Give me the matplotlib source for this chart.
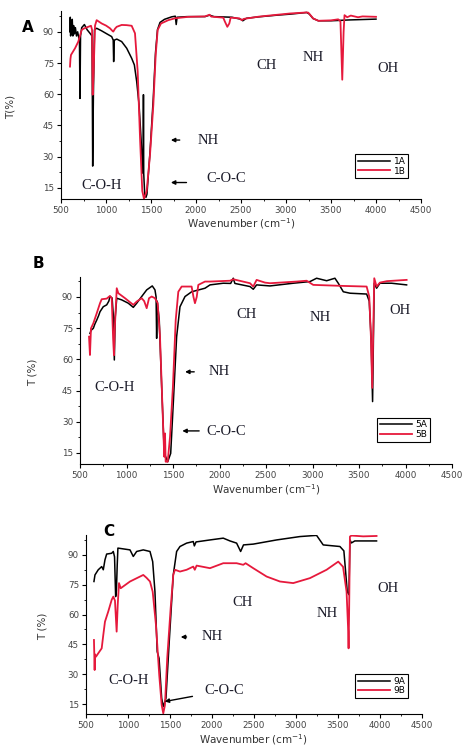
import numpy as np
import matplotlib
matplotlib.use("Agg")
import matplotlib.pyplot as plt
from matplotlib.ticker import MultipleLocator

# panel A: samples 1A / 1B
wn_1A = [600, 603, 607, 612, 618, 625, 632, 640, 650, 660, 672, 685, 698, 705, 711, 717, 730, 760, 790,
         822, 845, 852, 860, 872, 896, 950, 1010, 1063, 1080, 1085, 1092, 1120, 1174, 1230, 1285, 1315,
         1341, 1367, 1389, 1407, 1413, 1416, 1419, 1430, 1444, 1455, 1490, 1525, 1550, 1572, 1600, 1650,
         1730, 1770, 1780, 1790, 1900, 2100, 2150, 2200, 2400, 2500, 2520, 2560, 2700, 2900, 3050, 3230,
         3260, 3300, 3360, 3500, 3700, 4000]
t_1A = [90, 97, 88, 95, 89, 96, 88, 93, 89, 92, 88, 90, 87, 86, 58, 88, 92, 93.5, 91,
        89.3, 88, 25.5, 60, 91, 91.7, 90.5, 89, 87.7, 86, 75.7, 86, 86.5, 85.3, 82.1, 77.3, 74.1,
        66.1, 55, 39, 23.1, 22, 59.8, 22, 12, 10.5, 12, 33, 58, 80, 91, 94.5, 96,
        97.2, 97.5, 93.5, 97, 97.3, 97.3, 98, 97.3, 97, 96, 95.3, 96.5, 97.2, 98, 98.5, 99.3,
        98.5, 96.4, 95.3, 95.3, 95.7, 96.1]
wn_1B = [600, 605, 611, 656, 692, 730, 750, 803, 833, 845, 852, 862, 878, 896, 952, 1000, 1044, 1070,
         1081, 1100, 1119, 1174, 1230, 1285, 1322, 1352, 1378, 1403, 1422, 1452, 1489, 1526, 1552,
         1574, 1611, 1692, 1767, 1915, 2100, 2150, 2170, 2303, 2320, 2348, 2370, 2385, 2480, 2508,
         2530, 2700, 2859, 3044, 3230, 3248, 3303, 3359, 3500, 3580, 3605, 3625, 3640, 3650, 3680,
         3720, 3800, 3850, 4000]
t_1B = [73.3, 77, 78.9, 82.1, 85.3, 90.9, 91.5, 92.4, 92.9, 91, 59.8, 70, 93, 95.6, 94, 93, 91.7, 90.5,
        90.1, 91.5, 92.4, 93.3, 93.2, 92.9, 89.3, 70.9, 39, 13.5, 9.8, 13.5, 31, 55, 78.9,
        90.9, 94, 95.6, 96.5, 97.2, 97.4, 98.2, 97.3, 96.8, 95, 92.4, 94, 96.8, 96.5, 95.6,
        96.2, 97.3, 98, 98.8, 99.3, 99.2, 96.4, 95.3, 95.5, 96, 95, 67, 90, 98, 97,
        97.8, 97, 97.4, 97.2]

# panel B: samples 5A / 5B
wn_5A = [607, 620, 643, 660, 680, 700, 715, 750, 787, 810, 822, 845, 860, 869, 878, 895, 948, 1019,
         1073, 1110, 1163, 1217, 1277, 1306, 1318, 1324, 1330, 1352, 1378, 1406, 1443, 1475, 1503,
         1539, 1575, 1629, 1701, 1844, 1898, 2040, 2120, 2148, 2165, 2328, 2363, 2399, 2543, 2793,
         2973, 3044, 3152, 3241, 3277, 3331, 3403, 3582, 3610, 3630, 3646, 3655, 3664, 3689, 3725,
         3850, 4012]
t_5A = [72.5, 74, 74.9, 77, 78.9, 81, 82.9, 85.3, 86.2, 88, 90.2, 89.5, 80, 59.7, 80, 89.4, 88.6, 87,
        85, 87, 90.2, 93.4, 95.3, 93.4, 90, 70.1, 88, 78.9, 46.9, 14.8, 10.8, 14.8, 38.9,
        70.9, 85.3, 90.2, 92.5, 94.2, 95.8, 96.6, 96.5, 99, 96.5, 95, 93.7, 95.8, 95.3, 96.6,
        97.4, 99, 97.8, 99, 96.6, 92.5, 91.8, 91.4, 88, 70, 39.7, 70, 96.6, 94.2, 96.6,
        96.6, 95.8]
wn_5B = [597, 607, 618, 643, 680, 715, 733, 787, 822, 841, 856, 865, 874, 895, 912, 984, 1073, 1110,
         1163, 1190, 1217, 1242, 1271, 1306, 1335, 1360, 1385, 1406, 1414, 1421, 1443, 1468, 1499,
         1529, 1557, 1593, 1700, 1720, 1736, 1755, 1772, 1844, 1898, 2113, 2148, 2328, 2363, 2399,
         2489, 2543, 2830, 2937, 3008, 3331, 3582, 3610, 3628, 3642, 3652, 3664, 3689, 3725, 3800,
         4012]
t_5B = [70.9, 62.1, 74.9, 77.3, 82.2, 87, 88.9, 89.2, 90.5, 89.5, 70, 62, 75, 94.2, 91.8, 89.4, 86.2, 87.8,
        89.4, 88, 84.6, 89.4, 90.2, 89.4, 87, 70.9, 38.9, 13.2, 24.4, 10.8, 10.8, 22.8, 46.9,
        78.9, 92.5, 95, 95, 90, 87, 90, 95.8, 97.4, 97.4, 97.8, 98.5, 96.6, 95, 98.2,
        96.9, 96.6, 97.4, 97.8, 95.8, 95.3, 95, 90.2, 70.9, 46.3, 70.9, 99, 95, 96.9, 97.6,
        98.2]

# panel C: samples 9A / 9B
wn_9A = [595, 607, 646, 687, 706, 726, 746, 806, 825, 840, 853, 862, 872, 880, 944, 1024, 1063, 1103,
         1182, 1262, 1294, 1321, 1348, 1370, 1401, 1420, 1452, 1491, 1539, 1579, 1619, 1698, 1777,
         1790, 1810, 1976, 2134, 2214, 2293, 2341, 2375, 2491, 2769, 3047, 3245, 3324, 3523, 3570,
         3594, 3610, 3630, 3642, 3660, 3700, 3959]
t_9A = [76.6, 79.9, 82.5, 84.1, 82.5, 87.5, 90.4, 90.8, 91.7, 89, 69, 72, 85, 93.4, 93, 92.5, 89.2, 91.7,
        92.5, 91.7, 86.6, 71.5, 41.3, 38, 17.9, 13.7, 17.9, 46.4, 79.9, 91.7, 94.2, 95.9, 96.7,
        94.5, 96.5, 97.5, 98.4, 97, 95.9, 91.7, 95, 95.4, 97.5, 99.2, 99.8, 95, 94.2, 92,
        79.9, 71.5, 70, 97.5, 96, 97, 97]
wn_9B = [595, 603, 607, 619, 646, 687, 706, 726, 765, 806, 825, 845, 865, 878, 893, 913, 1024, 1182,
         1220, 1262, 1294, 1333, 1372, 1401, 1420, 1440, 1467, 1508, 1539, 1559, 1619, 1698, 1777,
         1795, 1817, 1976, 2134, 2293, 2372, 2400, 2491, 2650, 2809, 2967, 3166, 3364, 3503, 3560,
         3602, 3622, 3626, 3632, 3642, 3660, 3800, 3959]
t_9B = [47.2, 32.1, 40, 38.8, 40.5, 43, 49.7, 56.4, 61.5, 67.4, 69, 67, 51.4, 65, 75.8, 73.2, 76.6, 79.9,
        78.5, 76.6, 71.5, 54.8, 29.6, 14.5, 10.3, 14.5, 38, 63.2, 79.9, 82.5, 81.6, 82.5, 84.1,
        82.5, 84.6, 83.3, 85.8, 85.8, 85, 85.8, 83.3, 79.1, 76.6, 75.8, 78.3, 82.5, 86.6, 84,
        71.5, 51.4, 43, 60, 99.2, 99.7, 99.3, 99.5]

y_ticks = [15, 30, 45, 60, 75, 90]
x_ticks = [500, 1000, 1500, 2000, 2500, 3000, 3500, 4000, 4500]

red = '#e6193c'
serif = 'Liberation Serif'
txt_col = '#1c1c2a'


def setup(ax, ylo, yhi, ylab, xlab_y, ylab_x):
    ax.set_xlim(500, 4500)
    ax.set_ylim(ylo, yhi)
    ax.spines['top'].set_visible(False)
    ax.spines['right'].set_visible(False)
    ax.set_xticks(x_ticks)
    ax.set_yticks(y_ticks)
    ax.xaxis.set_minor_locator(MultipleLocator(250))
    ax.yaxis.set_minor_locator(MultipleLocator(7.5))
    ax.tick_params(which='major', length=3, width=0.8, labelsize=6.3, labelcolor='#444444', pad=2)
    ax.tick_params(which='minor', length=1.5, width=0.6)
    ax.set_xlabel('Wavenumber (cm$^{-1}$)', fontsize=7.5, color='#333333')
    ax.xaxis.set_label_coords(0.5, xlab_y)
    ax.set_ylabel(ylab, fontsize=7.5, color='#333333')
    ax.yaxis.set_label_coords(ylab_x, 0.49)


def legend(ax, labels, x0, y0):
    lg = ax.legend(labels, loc='lower left', bbox_to_anchor=(x0, y0), borderaxespad=0,
                   fontsize=6.5, handlelength=3.6, handletextpad=0.35, labelspacing=0.05,
                   borderpad=0.3, fancybox=False, framealpha=1, edgecolor='black')
    lg.get_frame().set_linewidth(0.8)


def label(ax, s, x, y, ha='center'):
    ax.text(x, y, s, family=serif, fontsize=10.5, color=txt_col, ha=ha, va='center')


def arrow(ax, tail, head):
    ax.annotate('', xy=head, xytext=tail,
                arrowprops=dict(arrowstyle='-|>', color='black', lw=1, mutation_scale=6))


fig = plt.figure(figsize=(4.74, 7.48), dpi=100)

# ---- A
ax1 = fig.add_axes([0.1287, 0.7340, 0.7595, 0.2513])
ax1.plot(wn_1A, t_1A, color='black', lw=1.1)
ax1.plot(wn_1B, t_1B, color=red, lw=1.3)
setup(ax1, 9.7, 100, 'T(%)', -0.09, -0.125)
legend(ax1, ['1A', '1B'], 0.817, 0.11)
label(ax1, 'C-O-H', 950, 16)
label(ax1, 'NH', 2130, 38)
arrow(ax1, (1850, 38), (1690, 38))
label(ax1, 'C-O-C', 2330, 19.3)
arrow(ax1, (1925, 17.6), (1690, 17.6))
label(ax1, 'CH', 2780, 73.6)
label(ax1, 'NH', 3300, 77.5)
label(ax1, 'OH', 4130, 72.2)
fig.text(0.059, 0.963, 'A', fontsize=11, fontweight='bold', ha='center', va='center')

# ---- B
ax2 = fig.add_axes([0.1688, 0.3797, 0.7848, 0.25])
ax2.plot(wn_5A, t_5A, color='black', lw=1.1)
ax2.plot(wn_5B, t_5B, color=red, lw=1.3)
setup(ax2, 9.7, 99.6, 'T (%)', -0.095, -0.115)
legend(ax2, ['5A', '5B'], 0.798, 0.12)
label(ax2, 'C-O-H', 876, 46.7)
label(ax2, 'NH', 1994, 54)
arrow(ax2, (1758, 54), (1600, 54))
label(ax2, 'C-O-C', 1855, 25.2, ha='left')
arrow(ax2, (1811, 25.6), (1570, 25.6))
label(ax2, 'CH', 2285, 81.8)
label(ax2, 'NH', 3080, 79.9)
label(ax2, 'OH', 3940, 83.3)
fig.text(0.082, 0.648, 'B', fontsize=11, fontweight='bold', ha='center', va='center')

# ---- C
ax3 = fig.add_axes([0.1814, 0.0455, 0.7089, 0.2393])
ax3.plot(wn_9A, t_9A, color='black', lw=1.1)
ax3.plot(wn_9B, t_9B, color=red, lw=1.3)
setup(ax3, 10, 100, 'T (%)', -0.1, -0.115)
legend(ax3, ['9A', '9B'], 0.80, 0.09)
label(ax3, 'C-O-H', 1010, 26.6)
label(ax3, 'NH', 2000, 48.7)
arrow(ax3, (1730, 48.7), (1595, 48.7))
label(ax3, 'C-O-C', 2140, 21.6)
arrow(ax3, (1800, 19.1), (1404, 16))
label(ax3, 'CH', 2360, 65.8)
label(ax3, 'NH', 3370, 60.3)
label(ax3, 'OH', 4100, 72.9)
fig.text(0.23, 0.289, 'C', fontsize=11, fontweight='bold', ha='center', va='center')

fig.savefig('out.png', dpi=100)
